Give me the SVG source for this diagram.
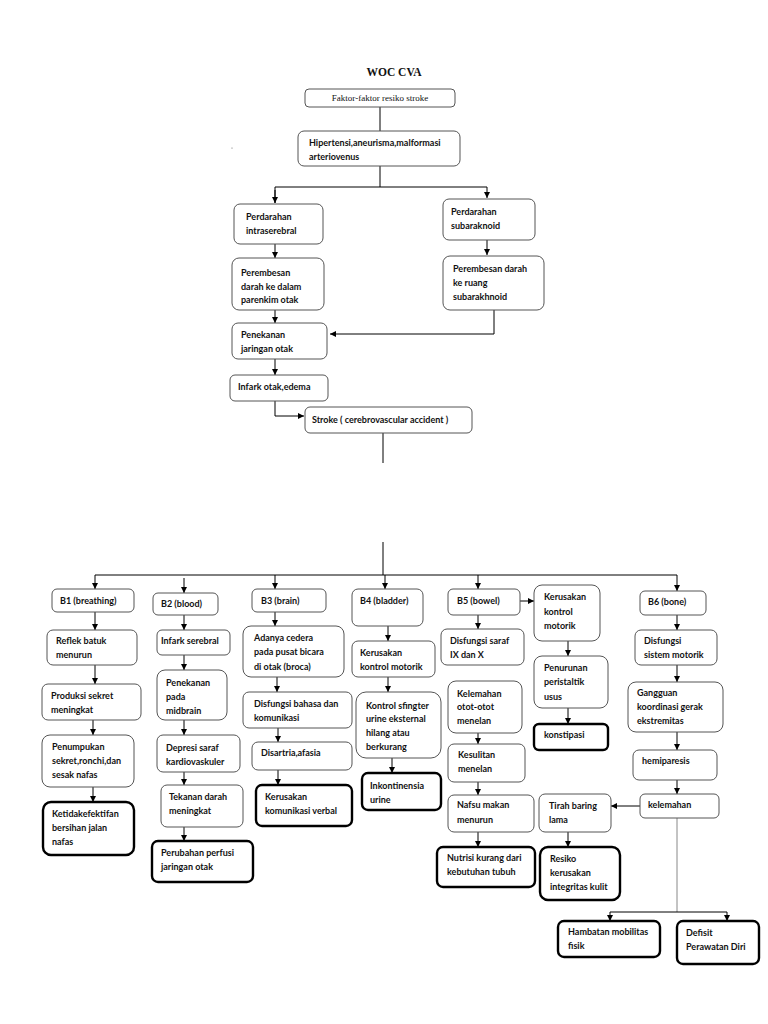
<svg xmlns="http://www.w3.org/2000/svg" width="768" height="1024" viewBox="0 0 768 1024">
<style>
.b{fill:#fff;stroke:#555;stroke-width:1}
.t{fill:#fff;stroke:#000;stroke-width:2.4}
text{font-family:Lato,"Liberation Sans",sans-serif;font-size:9px;font-weight:bold;fill:#111}
.s{font-family:"Liberation Serif",serif;font-weight:normal}
.c line,.c polyline{stroke:#000;stroke-width:1;fill:none}
</style>
<defs>
<marker id="a" viewBox="0 0 6 6" refX="6" refY="3" markerWidth="6" markerHeight="6" markerUnits="userSpaceOnUse" orient="auto"><path d="M0,0L6,3L0,6z" fill="#000"/></marker>
</defs>
<rect width="768" height="1024" fill="#fff"/>
<text class="s" x="394" y="76" text-anchor="middle" style="font-weight:bold;font-size:11.5px">WOC CVA</text>
<circle cx="232" cy="148" r="0.6" fill="#666"/>

<g class="c">
<line x1="380" y1="107" x2="380" y2="131"/>
<line x1="380" y1="166" x2="380" y2="187"/>
<polyline points="275,203 275,187 487,187 487,198" marker-end="url(#a)"/>
<line x1="275" y1="190" x2="275" y2="203" marker-end="url(#a)"/>
<line x1="275" y1="244" x2="275" y2="258" marker-end="url(#a)"/>
<line x1="487" y1="240" x2="487" y2="255" marker-end="url(#a)"/>
<line x1="275" y1="310" x2="275" y2="323" marker-end="url(#a)"/>
<polyline points="494,310 494,334 330,334" marker-end="url(#a)"/>
<line x1="275" y1="359" x2="275" y2="375" marker-end="url(#a)"/>
<polyline points="275,401 275,416 304,416" marker-end="url(#a)"/>
<line x1="383" y1="433" x2="383" y2="463"/>
<line x1="383" y1="542" x2="383" y2="575"/>
<line x1="95" y1="575" x2="677" y2="575"/>
<line x1="95" y1="575" x2="95" y2="589" marker-end="url(#a)"/>
<line x1="184" y1="578" x2="184" y2="593" marker-end="url(#a)"/>
<line x1="275" y1="575" x2="275" y2="589" marker-end="url(#a)"/>
<line x1="385" y1="575" x2="385" y2="589" marker-end="url(#a)"/>
<line x1="478" y1="575" x2="478" y2="589" marker-end="url(#a)"/>
<line x1="677" y1="575" x2="677" y2="591" marker-end="url(#a)"/>
<line x1="520" y1="601" x2="534" y2="601" marker-end="url(#a)"/>
<line x1="95" y1="612" x2="95" y2="630" marker-end="url(#a)"/>
<line x1="95" y1="665" x2="95" y2="684" marker-end="url(#a)"/>
<line x1="93" y1="720" x2="93" y2="735" marker-end="url(#a)"/>
<line x1="93" y1="787" x2="93" y2="802" marker-end="url(#a)"/>
<line x1="184" y1="615" x2="184" y2="630" marker-end="url(#a)"/>
<line x1="184" y1="655" x2="184" y2="670" marker-end="url(#a)"/>
<line x1="184" y1="720" x2="184" y2="735" marker-end="url(#a)"/>
<line x1="184" y1="772" x2="184" y2="785" marker-end="url(#a)"/>
<line x1="184" y1="827" x2="184" y2="841" marker-end="url(#a)"/>
<line x1="275" y1="612" x2="275" y2="626" marker-end="url(#a)"/>
<line x1="277" y1="677" x2="277" y2="692" marker-end="url(#a)"/>
<line x1="278" y1="728" x2="278" y2="742" marker-end="url(#a)"/>
<line x1="278" y1="770" x2="278" y2="785" marker-end="url(#a)"/>
<line x1="388" y1="626" x2="388" y2="641" marker-end="url(#a)"/>
<line x1="388" y1="677" x2="388" y2="692" marker-end="url(#a)"/>
<line x1="392" y1="758" x2="392" y2="773" marker-end="url(#a)"/>
<line x1="478" y1="615" x2="478" y2="629" marker-end="url(#a)"/>
<line x1="478" y1="733" x2="478" y2="744" marker-end="url(#a)"/>
<line x1="478" y1="782" x2="478" y2="795" marker-end="url(#a)"/>
<line x1="478" y1="832" x2="478" y2="847" marker-end="url(#a)"/>
<line x1="568" y1="641" x2="568" y2="656" marker-end="url(#a)"/>
<line x1="568" y1="708" x2="568" y2="724" marker-end="url(#a)"/>
<line x1="677" y1="615" x2="677" y2="630" marker-end="url(#a)"/>
<line x1="677" y1="665" x2="677" y2="682" marker-end="url(#a)"/>
<line x1="677" y1="732" x2="677" y2="750" marker-end="url(#a)"/>
<line x1="677" y1="780" x2="677" y2="794" marker-end="url(#a)"/>
<line x1="640" y1="806" x2="611" y2="806" marker-end="url(#a)"/>
<line x1="568" y1="832" x2="568" y2="847" marker-end="url(#a)"/>
<line x1="677" y1="818" x2="677" y2="912" style="stroke:#888"/>
<line x1="610" y1="912" x2="727" y2="912"/>
<line x1="610" y1="912" x2="610" y2="921" marker-end="url(#a)"/>
<line x1="727" y1="912" x2="727" y2="921" marker-end="url(#a)"/>
</g>

<g id="faktor"><rect class="b" x="305" y="89" width="150" height="18" rx="4"/><text class="s" x="380" y="101" text-anchor="middle">Faktor-faktor resiko stroke</text></g>
<g id="hipertensi"><rect class="b" x="298" y="131" width="162" height="35" rx="6"/><text x="309" y="146">Hipertensi,aneurisma,malformasi</text><text x="309" y="160">arteriovenus</text></g>
<g id="intraserebral"><rect class="b" x="234" y="204" width="89" height="40" rx="6"/><text x="246" y="220">Perdarahan</text><text x="246" y="234">intraserebral</text></g>
<g id="subaraknoid"><rect class="b" x="443" y="199" width="92" height="41" rx="6"/><text x="451" y="215">Perdarahan</text><text x="451" y="229">subaraknoid</text></g>
<g id="perembesan1"><rect class="b" x="232" y="258" width="92" height="52" rx="7"/><text x="241" y="276">Perembesan</text><text x="241" y="290">darah ke dalam</text><text x="241" y="303">parenkim otak</text></g>
<g id="perembesan2"><rect class="b" x="443" y="256" width="101" height="54" rx="7"/><text x="453" y="272">Perembesan darah</text><text x="453" y="286">ke ruang</text><text x="453" y="300">subarakhnoid</text></g>
<g id="penekanan"><rect class="b" x="232" y="323" width="95" height="36" rx="6"/><text x="241" y="338">Penekanan</text><text x="241" y="352">jaringan otak</text></g>
<g id="infark"><rect class="b" x="230" y="375" width="98" height="26" rx="5"/><text x="238" y="390">Infark otak,edema</text></g>
<g id="stroke"><rect class="b" x="305" y="407" width="167" height="26" rx="5"/><text x="312" y="423">Stroke ( cerebrovascular accident )</text></g>

<g id="b1"><rect class="b" x="52" y="589" width="82" height="23" rx="5"/><text x="60" y="604">B1 (breathing)</text></g>
<g id="b2"><rect class="b" x="153" y="593" width="65" height="22" rx="5"/><text x="161" y="607">B2 (blood)</text></g>
<g id="b3"><rect class="b" x="252" y="589" width="74" height="23" rx="5"/><text x="261" y="604">B3 (brain)</text></g>
<g id="b4"><rect class="b" x="352" y="589" width="71" height="37" rx="6"/><text x="360" y="604">B4 (bladder)</text></g>
<g id="b5"><rect class="b" x="448" y="589" width="72" height="26" rx="5"/><text x="457" y="604">B5 (bowel)</text></g>
<g id="b5kontrol"><rect class="b" x="534" y="585" width="66" height="56" rx="8"/><text x="544" y="600">Kerusakan</text><text x="544" y="615">kontrol</text><text x="544" y="629">motorik</text></g>
<g id="b6"><rect class="b" x="640" y="591" width="66" height="24" rx="5"/><text x="648" y="605">B6 (bone)</text></g>

<g id="reflek"><rect class="b" x="47" y="630" width="90" height="35" rx="6"/><text x="56" y="644">Reflek batuk</text><text x="56" y="658">menurun</text></g>
<g id="produksi"><rect class="b" x="42" y="684" width="99" height="36" rx="6"/><text x="51" y="699">Produksi sekret</text><text x="51" y="713">meningkat</text></g>
<g id="penumpukan"><rect class="b" x="42" y="735" width="92" height="52" rx="8"/><text x="52" y="750">Penumpukan</text><text x="52" y="764">sekret,ronchi,dan</text><text x="52" y="778">sesak nafas</text></g>
<g id="ketidakefektifan"><rect class="t" x="43" y="802" width="91" height="53" rx="8"/><text x="52" y="817">Ketidakefektifan</text><text x="52" y="831">bersihan jalan</text><text x="52" y="845">nafas</text></g>

<g id="infarkserebral"><rect class="b" x="157" y="630" width="73" height="25" rx="5"/><text x="161" y="644">Infark serebral</text></g>
<g id="midbrain"><rect class="b" x="157" y="670" width="70" height="50" rx="8"/><text x="166" y="686">Penekanan</text><text x="166" y="700">pada</text><text x="166" y="714">midbrain</text></g>
<g id="depresi"><rect class="b" x="157" y="735" width="83" height="37" rx="6"/><text x="166" y="751">Depresi saraf</text><text x="166" y="765">kardiovaskuler</text></g>
<g id="tekanan"><rect class="b" x="161" y="785" width="82" height="42" rx="6"/><text x="169" y="800">Tekanan darah</text><text x="169" y="814">meningkat</text></g>
<g id="perfusi"><rect class="t" x="152" y="841" width="101" height="41" rx="6"/><text x="161" y="856">Perubahan perfusi</text><text x="161" y="870">jaringan otak</text></g>

<g id="cedera"><rect class="b" x="243" y="626" width="101" height="51" rx="8"/><text x="254" y="641">Adanya cedera</text><text x="254" y="655">pada pusat bicara</text><text x="254" y="670">di otak (broca)</text></g>
<g id="disfungsibahasa"><rect class="b" x="243" y="692" width="109" height="36" rx="6"/><text x="254" y="707">Disfungsi bahasa dan</text><text x="254" y="721">komunikasi</text></g>
<g id="disartria"><rect class="b" x="252" y="742" width="100" height="28" rx="6"/><text x="261" y="756">Disartria,afasia</text></g>
<g id="komunikasi"><rect class="t" x="256" y="785" width="96" height="41" rx="6"/><text x="265" y="800">Kerusakan</text><text x="265" y="814">komunikasi verbal</text></g>

<g id="b4kontrol"><rect class="b" x="352" y="641" width="83" height="36" rx="6"/><text x="360" y="656">Kerusakan</text><text x="360" y="670">kontrol motorik</text></g>
<g id="sfingter"><rect class="b" x="356" y="692" width="85" height="66" rx="10"/><text x="366" y="709">Kontrol sfingter</text><text x="366" y="722">urine eksternal</text><text x="366" y="736">hilang atau</text><text x="366" y="750">berkurang</text></g>
<g id="inkontinensia"><rect class="t" x="362" y="773" width="79" height="37" rx="6"/><text x="370" y="789">Inkontinensia</text><text x="370" y="803">urine</text></g>

<g id="saraf9"><rect class="b" x="441" y="629" width="83" height="36" rx="6"/><text x="450" y="644">Disfungsi saraf</text><text x="450" y="658">IX dan X</text></g>
<g id="kelemahanotot"><rect class="b" x="448" y="681" width="74" height="52" rx="8"/><text x="457" y="697">Kelemahan</text><text x="457" y="710">otot-otot</text><text x="457" y="724">menelan</text></g>
<g id="kesulitan"><rect class="b" x="448" y="744" width="77" height="38" rx="6"/><text x="458" y="758">Kesulitan</text><text x="458" y="772">menelan</text></g>
<g id="nafsu"><rect class="b" x="448" y="795" width="86" height="37" rx="6"/><text x="457" y="808">Nafsu makan</text><text x="457" y="823">menurun</text></g>
<g id="nutrisi"><rect class="t" x="437" y="847" width="98" height="40" rx="6"/><text x="447" y="861">Nutrisi kurang dari</text><text x="447" y="875">kebutuhan tubuh</text></g>

<g id="peristaltik"><rect class="b" x="534" y="656" width="74" height="52" rx="8"/><text x="544" y="671">Penurunan</text><text x="544" y="685">peristaltik</text><text x="544" y="700">usus</text></g>
<g id="konstipasi"><rect class="t" x="534" y="724" width="74" height="26" rx="5"/><text x="544" y="738">konstipasi</text></g>

<g id="sistemmotorik"><rect class="b" x="635" y="630" width="82" height="35" rx="6"/><text x="644" y="644">Disfungsi</text><text x="644" y="658">sistem motorik</text></g>
<g id="gangguan"><rect class="b" x="628" y="682" width="95" height="50" rx="8"/><text x="637" y="696">Gangguan</text><text x="637" y="710">koordinasi gerak</text><text x="637" y="724">ekstremitas</text></g>
<g id="hemiparesis"><rect class="b" x="633" y="750" width="84" height="30" rx="6"/><text x="642" y="764">hemiparesis</text></g>
<g id="kelemahan"><rect class="b" x="640" y="794" width="79" height="24" rx="5"/><text x="648" y="808">kelemahan</text></g>
<g id="tirah"><rect class="b" x="539" y="794" width="72" height="38" rx="6"/><text x="549" y="809">Tirah baring</text><text x="549" y="823">lama</text></g>
<g id="resiko"><rect class="t" x="540" y="847" width="80" height="53" rx="8"/><text x="550" y="862">Resiko</text><text x="550" y="876">kerusakan</text><text x="550" y="890">integritas kulit</text></g>
<g id="hambatan"><rect class="t" x="558" y="921" width="102" height="36" rx="6"/><text x="568" y="935">Hambatan mobilitas</text><text x="568" y="949">fisik</text></g>
<g id="defisit"><rect class="t" x="677" y="921" width="82" height="43" rx="6"/><text x="686" y="936">Defisit</text><text x="686" y="950">Perawatan Diri</text></g>
</svg>
